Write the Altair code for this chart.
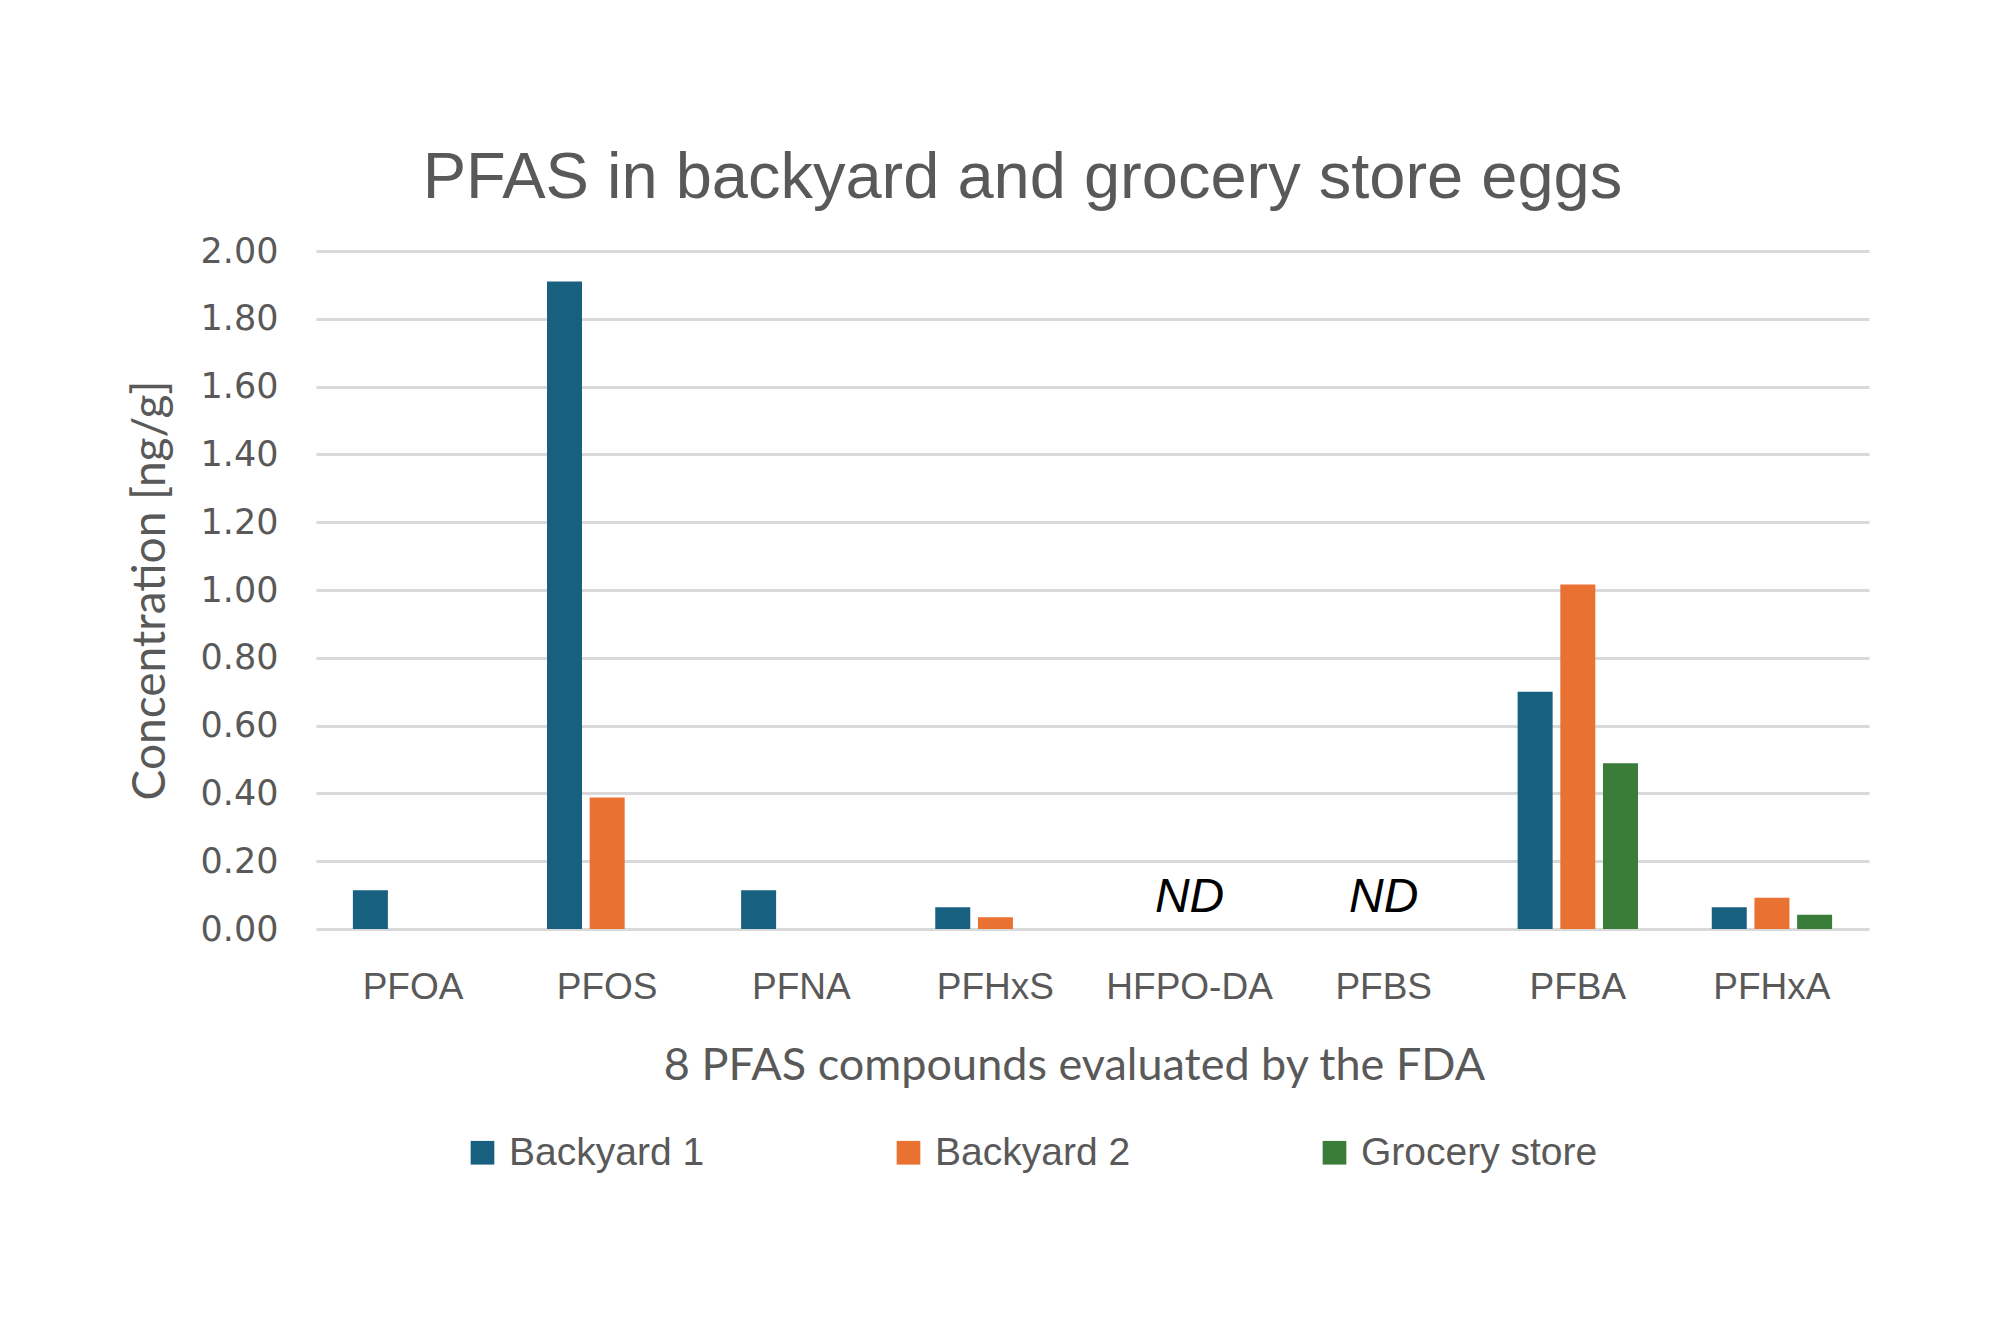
import altair as alt
import pandas as pd

compounds = ["PFOA", "PFOS", "PFNA", "PFHxS", "HFPO-DA", "PFBS", "PFBA", "PFHxA"]
series = ["Backyard 1", "Backyard 2", "Grocery store"]
backyard1 = [0.114, 1.91, 0.114, 0.064, None, None, 0.70, 0.064]
backyard2 = [None, 0.388, None, 0.035, None, None, 1.016, 0.092]
grocery = [None, None, None, None, None, None, 0.489, 0.042]
nd_compounds = ["HFPO-DA", "PFBS"]
nd_text = ["ND", "ND"]
colors = ["#18607f", "#e97132", "#3a7d3a"]

rows = []
for name, vals in zip(series, [backyard1, backyard2, grocery]):
    for c, v in zip(compounds, vals):
        if v is not None:
            rows.append({"compound": c, "series": name, "value": v})
df = pd.DataFrame(rows)
nd_df = pd.DataFrame({"compound": nd_compounds, "label": nd_text})

label_font = "Liberation Sans"
gray = "#595959"

x_enc = alt.X(
    "compound:N",
    sort=compounds,
    scale=alt.Scale(domain=compounds, paddingInner=0.38, paddingOuter=0.19),
    axis=alt.Axis(
        title="8 PFAS compounds evaluated by the FDA",
        titleFont="Lato",
        titleFontSize=45,
        titleFontWeight="normal",
        titleColor=gray,
        titlePadding=38,
        titleX=758,
        titleAlign="center",
        titleAnchor="start",
        labelFont=label_font,
        labelFontSize=37,
        labelColor=gray,
        labelPadding=40,
        labelAngle=0,
        ticks=False,
        domain=False,
    ),
)

bars = alt.Chart(df).mark_bar().encode(
    x=x_enc,
    xOffset=alt.XOffset(
        "series:N",
        sort=series,
        scale=alt.Scale(domain=series, paddingInner=0.18, paddingOuter=0),
    ),
    y=alt.Y(
        "value:Q",
        scale=alt.Scale(domain=[0, 2]),
        axis=alt.Axis(
            title="Concentration [ng/g]",
            titleFont="Lato",
            titleFontSize=46,
            titleFontWeight="normal",
            titleColor=gray,
            titlePadding=26,
            values=[0, 0.2, 0.4, 0.6, 0.8, 1.0, 1.2, 1.4, 1.6, 1.8, 2.0],
            format=".2f",
            labelFont="DejaVu Sans",
            labelFontSize=35,
            labelColor=gray,
            labelPadding=38,
            ticks=False,
            domain=False,
            grid=True,
            gridColor="#d9d9d9",
            gridWidth=3,
        ),
    ),
    color=alt.Color(
        "series:N",
        sort=series,
        scale=alt.Scale(domain=series, range=colors),
        legend=alt.Legend(
            title=None,
            orient="none",
            legendX=147,
            legendY=882,
            direction="horizontal",
            columns=3,
            columnPadding=184,
            symbolType="square",
            symbolSize=560,
            symbolStrokeWidth=0,
            labelFont=label_font,
            labelFontSize=39,
            labelColor=gray,
            labelOffset=7,
            labelLimit=0,
        ),
    ),
)

nd = alt.Chart(nd_df).mark_text(
    font=label_font,
    fontSize=48,
    fontStyle="italic",
    color="#000000",
    baseline="middle",
    align="center",
).encode(
    x=alt.X("compound:N", sort=compounds),
    y=alt.datum(0.092),
    text="label:N",
)

chart = (
    alt.layer(bars, nd)
    .properties(
        width=1553,
        height=678,
        title=alt.TitleParams(
            text="PFAS in backyard and grocery store eggs",
            font=label_font,
            fontSize=65,
            fontWeight="normal",
            color=gray,
            anchor="middle",
            dx=-70,
            offset=22,
        ),
        padding={"left": 316, "top": 251, "right": 131, "bottom": 404},
        autosize=alt.AutoSizeParams(type="none"),
        background="white",
    )
    .configure_view(stroke=None)
)

chart.save("out.html", embed_options={"renderer": "svg", "actions": False})
